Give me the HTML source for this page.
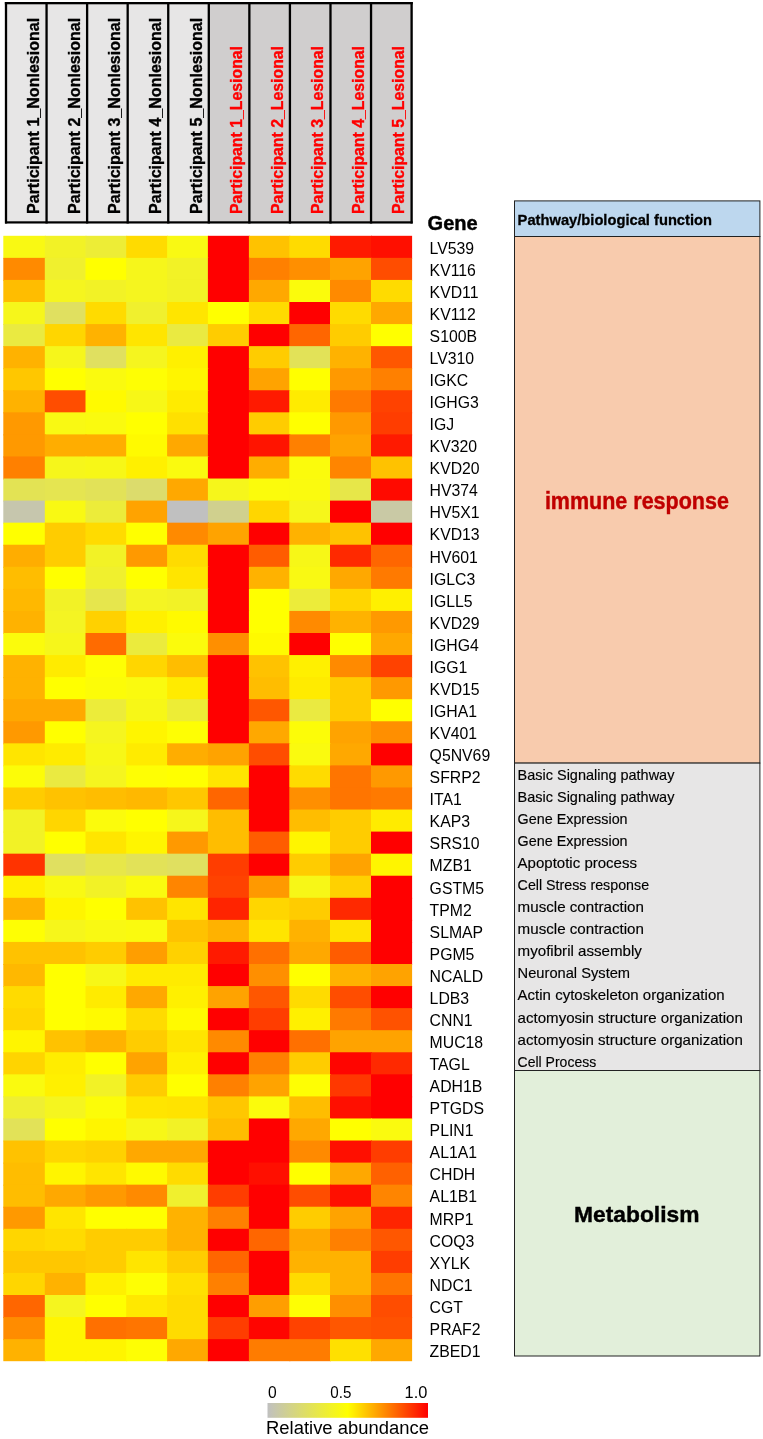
<!DOCTYPE html>
<html lang="en">
<head>
<meta charset="utf-8">
<title>Heatmap</title>
<style>
html,body{margin:0;padding:0;background:#fff}
body{width:763px;height:1439px;overflow:hidden}
svg{display:block}
.s{font-family:"Liberation Sans",Arial,Helvetica,sans-serif}
.b{font-weight:bold}
</style>
</head>
<body>
<svg width="763" height="1439" viewBox="0 0 763 1439" class="s">
<rect x="0" y="0" width="763" height="1439" fill="#ffffff"/>
<g id="header">
<rect x="5.00" y="2.00" width="203.80" height="221.50" fill="#e7e6e6"/>
<rect x="208.80" y="2.00" width="203.80" height="221.50" fill="#d0cece"/>
<rect x="4.85" y="2.00" width="2.3" height="221.50" fill="#000"/>
<rect x="45.41" y="2.00" width="2.3" height="221.50" fill="#000"/>
<rect x="85.97" y="2.00" width="2.3" height="221.50" fill="#000"/>
<rect x="126.53" y="2.00" width="2.3" height="221.50" fill="#000"/>
<rect x="167.09" y="2.00" width="2.3" height="221.50" fill="#000"/>
<rect x="207.65" y="2.00" width="2.3" height="221.50" fill="#000"/>
<rect x="248.21" y="2.00" width="2.3" height="221.50" fill="#000"/>
<rect x="288.77" y="2.00" width="2.3" height="221.50" fill="#000"/>
<rect x="329.33" y="2.00" width="2.3" height="221.50" fill="#000"/>
<rect x="369.89" y="2.00" width="2.3" height="221.50" fill="#000"/>
<rect x="410.45" y="2.00" width="2.3" height="221.50" fill="#000"/>
<rect x="4.85" y="2.00" width="407.90" height="2.3" fill="#000"/>
<rect x="5.00" y="221.30" width="407.60" height="2.2" fill="#000"/>
<text class="b" transform="translate(39.36,214.0) rotate(-90)" font-size="16.6" fill="#000000" stroke="#000000" stroke-width="0.35" textLength="196.2" lengthAdjust="spacingAndGlyphs">Participant 1_Nonlesional</text>
<text class="b" transform="translate(79.92,214.0) rotate(-90)" font-size="16.6" fill="#000000" stroke="#000000" stroke-width="0.35" textLength="196.2" lengthAdjust="spacingAndGlyphs">Participant 2_Nonlesional</text>
<text class="b" transform="translate(120.48,214.0) rotate(-90)" font-size="16.6" fill="#000000" stroke="#000000" stroke-width="0.35" textLength="196.2" lengthAdjust="spacingAndGlyphs">Participant 3_Nonlesional</text>
<text class="b" transform="translate(161.04,214.0) rotate(-90)" font-size="16.6" fill="#000000" stroke="#000000" stroke-width="0.35" textLength="196.2" lengthAdjust="spacingAndGlyphs">Participant 4_Nonlesional</text>
<text class="b" transform="translate(201.60,214.0) rotate(-90)" font-size="16.6" fill="#000000" stroke="#000000" stroke-width="0.35" textLength="196.2" lengthAdjust="spacingAndGlyphs">Participant 5_Nonlesional</text>
<text class="b" transform="translate(242.16,214.0) rotate(-90)" font-size="16.6" fill="#ff0000" stroke="#ff0000" stroke-width="0.35" textLength="168.0" lengthAdjust="spacingAndGlyphs">Participant 1_Lesional</text>
<text class="b" transform="translate(282.72,214.0) rotate(-90)" font-size="16.6" fill="#ff0000" stroke="#ff0000" stroke-width="0.35" textLength="168.0" lengthAdjust="spacingAndGlyphs">Participant 2_Lesional</text>
<text class="b" transform="translate(323.28,214.0) rotate(-90)" font-size="16.6" fill="#ff0000" stroke="#ff0000" stroke-width="0.35" textLength="168.0" lengthAdjust="spacingAndGlyphs">Participant 3_Lesional</text>
<text class="b" transform="translate(363.84,214.0) rotate(-90)" font-size="16.6" fill="#ff0000" stroke="#ff0000" stroke-width="0.35" textLength="168.0" lengthAdjust="spacingAndGlyphs">Participant 4_Lesional</text>
<text class="b" transform="translate(404.40,214.0) rotate(-90)" font-size="16.6" fill="#ff0000" stroke="#ff0000" stroke-width="0.35" textLength="168.0" lengthAdjust="spacingAndGlyphs">Participant 5_Lesional</text>
</g>
<g id="heatmap">
<rect x="3.30" y="235.80" width="42.50" height="23.07" fill="#f9f913"/><rect x="44.80" y="235.80" width="41.70" height="23.07" fill="#f2f226"/><rect x="85.50" y="235.80" width="41.70" height="23.07" fill="#eded36"/><rect x="126.20" y="235.80" width="41.90" height="23.07" fill="#ffdb00"/><rect x="167.10" y="235.80" width="41.80" height="23.07" fill="#f9f913"/><rect x="207.90" y="235.80" width="42.00" height="23.07" fill="#ff0000"/><rect x="248.90" y="235.80" width="41.40" height="23.07" fill="#ffc200"/><rect x="289.30" y="235.80" width="41.70" height="23.07" fill="#ffdb00"/><rect x="330.00" y="235.80" width="42.00" height="23.07" fill="#ff1a00"/><rect x="371.00" y="235.80" width="41.10" height="23.07" fill="#ff0f00"/>
<rect x="3.30" y="257.87" width="42.50" height="23.07" fill="#ff8a00"/><rect x="44.80" y="257.87" width="41.70" height="23.07" fill="#f0f02e"/><rect x="85.50" y="257.87" width="41.70" height="23.07" fill="#ffff00"/><rect x="126.20" y="257.87" width="41.90" height="23.07" fill="#f6f61b"/><rect x="167.10" y="257.87" width="41.80" height="23.07" fill="#f2f226"/><rect x="207.90" y="257.87" width="42.00" height="23.07" fill="#ff0000"/><rect x="248.90" y="257.87" width="41.40" height="23.07" fill="#ff8000"/><rect x="289.30" y="257.87" width="41.70" height="23.07" fill="#ff8f00"/><rect x="330.00" y="257.87" width="42.00" height="23.07" fill="#ffa300"/><rect x="371.00" y="257.87" width="41.10" height="23.07" fill="#ff4d00"/>
<rect x="3.30" y="279.93" width="42.50" height="23.07" fill="#ffbd00"/><rect x="44.80" y="279.93" width="41.70" height="23.07" fill="#f5f51f"/><rect x="85.50" y="279.93" width="41.70" height="23.07" fill="#f2f226"/><rect x="126.20" y="279.93" width="41.90" height="23.07" fill="#f5f51f"/><rect x="167.10" y="279.93" width="41.80" height="23.07" fill="#f2f226"/><rect x="207.90" y="279.93" width="42.00" height="23.07" fill="#ff0000"/><rect x="248.90" y="279.93" width="41.40" height="23.07" fill="#ffa800"/><rect x="289.30" y="279.93" width="41.70" height="23.07" fill="#fbfb0c"/><rect x="330.00" y="279.93" width="42.00" height="23.07" fill="#ff8a00"/><rect x="371.00" y="279.93" width="41.10" height="23.07" fill="#ffdb00"/>
<rect x="3.30" y="302.00" width="42.50" height="23.07" fill="#f6f61b"/><rect x="44.80" y="302.00" width="41.70" height="23.07" fill="#e0e060"/><rect x="85.50" y="302.00" width="41.70" height="23.07" fill="#ffdb00"/><rect x="126.20" y="302.00" width="41.90" height="23.07" fill="#f0f02e"/><rect x="167.10" y="302.00" width="41.80" height="23.07" fill="#ffe500"/><rect x="207.90" y="302.00" width="42.00" height="23.07" fill="#ffff00"/><rect x="248.90" y="302.00" width="41.40" height="23.07" fill="#ffdb00"/><rect x="289.30" y="302.00" width="41.70" height="23.07" fill="#ff0000"/><rect x="330.00" y="302.00" width="42.00" height="23.07" fill="#ffdb00"/><rect x="371.00" y="302.00" width="41.10" height="23.07" fill="#ffa800"/>
<rect x="3.30" y="324.07" width="42.50" height="23.07" fill="#eaea41"/><rect x="44.80" y="324.07" width="41.70" height="23.07" fill="#ffd600"/><rect x="85.50" y="324.07" width="41.70" height="23.07" fill="#ffb200"/><rect x="126.20" y="324.07" width="41.90" height="23.07" fill="#ffe500"/><rect x="167.10" y="324.07" width="41.80" height="23.07" fill="#eaea41"/><rect x="207.90" y="324.07" width="42.00" height="23.07" fill="#ffcc00"/><rect x="248.90" y="324.07" width="41.40" height="23.07" fill="#ff0000"/><rect x="289.30" y="324.07" width="41.70" height="23.07" fill="#ff6600"/><rect x="330.00" y="324.07" width="42.00" height="23.07" fill="#ffcc00"/><rect x="371.00" y="324.07" width="41.10" height="23.07" fill="#ffff00"/>
<rect x="3.30" y="346.13" width="42.50" height="23.07" fill="#ffb200"/><rect x="44.80" y="346.13" width="41.70" height="23.07" fill="#f6f61b"/><rect x="85.50" y="346.13" width="41.70" height="23.07" fill="#e0e060"/><rect x="126.20" y="346.13" width="41.90" height="23.07" fill="#f5f51f"/><rect x="167.10" y="346.13" width="41.80" height="23.07" fill="#fff000"/><rect x="207.90" y="346.13" width="42.00" height="23.07" fill="#ff0000"/><rect x="248.90" y="346.13" width="41.40" height="23.07" fill="#ffcc00"/><rect x="289.30" y="346.13" width="41.70" height="23.07" fill="#e2e258"/><rect x="330.00" y="346.13" width="42.00" height="23.07" fill="#ffb200"/><rect x="371.00" y="346.13" width="41.10" height="23.07" fill="#ff5700"/>
<rect x="3.30" y="368.20" width="42.50" height="23.07" fill="#ffc700"/><rect x="44.80" y="368.20" width="41.70" height="23.07" fill="#ffff00"/><rect x="85.50" y="368.20" width="41.70" height="23.07" fill="#fafa0f"/><rect x="126.20" y="368.20" width="41.90" height="23.07" fill="#fefe04"/><rect x="167.10" y="368.20" width="41.80" height="23.07" fill="#fff500"/><rect x="207.90" y="368.20" width="42.00" height="23.07" fill="#ff0000"/><rect x="248.90" y="368.20" width="41.40" height="23.07" fill="#ffa300"/><rect x="289.30" y="368.20" width="41.70" height="23.07" fill="#ffff00"/><rect x="330.00" y="368.20" width="42.00" height="23.07" fill="#ff9900"/><rect x="371.00" y="368.20" width="41.10" height="23.07" fill="#ff8000"/>
<rect x="3.30" y="390.27" width="42.50" height="23.07" fill="#ffb200"/><rect x="44.80" y="390.27" width="41.70" height="23.07" fill="#ff4d00"/><rect x="85.50" y="390.27" width="41.70" height="23.07" fill="#fffa00"/><rect x="126.20" y="390.27" width="41.90" height="23.07" fill="#f7f717"/><rect x="167.10" y="390.27" width="41.80" height="23.07" fill="#ffeb00"/><rect x="207.90" y="390.27" width="42.00" height="23.07" fill="#ff0000"/><rect x="248.90" y="390.27" width="41.40" height="23.07" fill="#ff1a00"/><rect x="289.30" y="390.27" width="41.70" height="23.07" fill="#ffeb00"/><rect x="330.00" y="390.27" width="42.00" height="23.07" fill="#ff7a00"/><rect x="371.00" y="390.27" width="41.10" height="23.07" fill="#ff4200"/>
<rect x="3.30" y="412.33" width="42.50" height="23.07" fill="#ff9900"/><rect x="44.80" y="412.33" width="41.70" height="23.07" fill="#f9f913"/><rect x="85.50" y="412.33" width="41.70" height="23.07" fill="#fafa0f"/><rect x="126.20" y="412.33" width="41.90" height="23.07" fill="#ffff00"/><rect x="167.10" y="412.33" width="41.80" height="23.07" fill="#ffe000"/><rect x="207.90" y="412.33" width="42.00" height="23.07" fill="#ff0000"/><rect x="248.90" y="412.33" width="41.40" height="23.07" fill="#ffcc00"/><rect x="289.30" y="412.33" width="41.70" height="23.07" fill="#ffff00"/><rect x="330.00" y="412.33" width="42.00" height="23.07" fill="#ff9900"/><rect x="371.00" y="412.33" width="41.10" height="23.07" fill="#ff3d00"/>
<rect x="3.30" y="434.40" width="42.50" height="23.07" fill="#ff9900"/><rect x="44.80" y="434.40" width="41.70" height="23.07" fill="#ffad00"/><rect x="85.50" y="434.40" width="41.70" height="23.07" fill="#ffad00"/><rect x="126.20" y="434.40" width="41.90" height="23.07" fill="#fffa00"/><rect x="167.10" y="434.40" width="41.80" height="23.07" fill="#ffa800"/><rect x="207.90" y="434.40" width="42.00" height="23.07" fill="#ff0000"/><rect x="248.90" y="434.40" width="41.40" height="23.07" fill="#ff1400"/><rect x="289.30" y="434.40" width="41.70" height="23.07" fill="#ff8000"/><rect x="330.00" y="434.40" width="42.00" height="23.07" fill="#ffa300"/><rect x="371.00" y="434.40" width="41.10" height="23.07" fill="#ff1a00"/>
<rect x="3.30" y="456.47" width="42.50" height="23.07" fill="#ff8000"/><rect x="44.80" y="456.47" width="41.70" height="23.07" fill="#f6f61b"/><rect x="85.50" y="456.47" width="41.70" height="23.07" fill="#f7f717"/><rect x="126.20" y="456.47" width="41.90" height="23.07" fill="#fff000"/><rect x="167.10" y="456.47" width="41.80" height="23.07" fill="#fafa0f"/><rect x="207.90" y="456.47" width="42.00" height="23.07" fill="#ff0000"/><rect x="248.90" y="456.47" width="41.40" height="23.07" fill="#ffad00"/><rect x="289.30" y="456.47" width="41.70" height="23.07" fill="#fbfb0c"/><rect x="330.00" y="456.47" width="42.00" height="23.07" fill="#ff8500"/><rect x="371.00" y="456.47" width="41.10" height="23.07" fill="#ffc200"/>
<rect x="3.30" y="478.53" width="42.50" height="23.07" fill="#e3e354"/><rect x="44.80" y="478.53" width="41.70" height="23.07" fill="#e5e551"/><rect x="85.50" y="478.53" width="41.70" height="23.07" fill="#e2e258"/><rect x="126.20" y="478.53" width="41.90" height="23.07" fill="#dcdc6c"/><rect x="167.10" y="478.53" width="41.80" height="23.07" fill="#ffa800"/><rect x="207.90" y="478.53" width="42.00" height="23.07" fill="#f6f61b"/><rect x="248.90" y="478.53" width="41.40" height="23.07" fill="#fbfb0c"/><rect x="289.30" y="478.53" width="41.70" height="23.07" fill="#fafa0f"/><rect x="330.00" y="478.53" width="42.00" height="23.07" fill="#e7e749"/><rect x="371.00" y="478.53" width="41.10" height="23.07" fill="#ff0a00"/>
<rect x="3.30" y="500.60" width="42.50" height="23.07" fill="#c6c6ad"/><rect x="44.80" y="500.60" width="41.70" height="23.07" fill="#f9f913"/><rect x="85.50" y="500.60" width="41.70" height="23.07" fill="#ecec3a"/><rect x="126.20" y="500.60" width="41.90" height="23.07" fill="#ffa300"/><rect x="167.10" y="500.60" width="41.80" height="23.07" fill="#c0c0c0"/><rect x="207.90" y="500.60" width="42.00" height="23.07" fill="#d0d08e"/><rect x="248.90" y="500.60" width="41.40" height="23.07" fill="#ffd600"/><rect x="289.30" y="500.60" width="41.70" height="23.07" fill="#f6f61b"/><rect x="330.00" y="500.60" width="42.00" height="23.07" fill="#ff0000"/><rect x="371.00" y="500.60" width="41.10" height="23.07" fill="#c9c9a5"/>
<rect x="3.30" y="522.67" width="42.50" height="23.07" fill="#ffff00"/><rect x="44.80" y="522.67" width="41.70" height="23.07" fill="#ffcc00"/><rect x="85.50" y="522.67" width="41.70" height="23.07" fill="#ffdb00"/><rect x="126.20" y="522.67" width="41.90" height="23.07" fill="#ffff00"/><rect x="167.10" y="522.67" width="41.80" height="23.07" fill="#ff8a00"/><rect x="207.90" y="522.67" width="42.00" height="23.07" fill="#ffa300"/><rect x="248.90" y="522.67" width="41.40" height="23.07" fill="#ff0000"/><rect x="289.30" y="522.67" width="41.70" height="23.07" fill="#ffb200"/><rect x="330.00" y="522.67" width="42.00" height="23.07" fill="#ffc200"/><rect x="371.00" y="522.67" width="41.10" height="23.07" fill="#ff0000"/>
<rect x="3.30" y="544.73" width="42.50" height="23.07" fill="#ffad00"/><rect x="44.80" y="544.73" width="41.70" height="23.07" fill="#ffcc00"/><rect x="85.50" y="544.73" width="41.70" height="23.07" fill="#f2f226"/><rect x="126.20" y="544.73" width="41.90" height="23.07" fill="#ff9900"/><rect x="167.10" y="544.73" width="41.80" height="23.07" fill="#ffdb00"/><rect x="207.90" y="544.73" width="42.00" height="23.07" fill="#ff0000"/><rect x="248.90" y="544.73" width="41.40" height="23.07" fill="#ff5c00"/><rect x="289.30" y="544.73" width="41.70" height="23.07" fill="#f7f717"/><rect x="330.00" y="544.73" width="42.00" height="23.07" fill="#ff2900"/><rect x="371.00" y="544.73" width="41.10" height="23.07" fill="#ff6600"/>
<rect x="3.30" y="566.80" width="42.50" height="23.07" fill="#ffbd00"/><rect x="44.80" y="566.80" width="41.70" height="23.07" fill="#ffff00"/><rect x="85.50" y="566.80" width="41.70" height="23.07" fill="#f0f02e"/><rect x="126.20" y="566.80" width="41.90" height="23.07" fill="#ffff00"/><rect x="167.10" y="566.80" width="41.80" height="23.07" fill="#ffe500"/><rect x="207.90" y="566.80" width="42.00" height="23.07" fill="#ff0000"/><rect x="248.90" y="566.80" width="41.40" height="23.07" fill="#ffb200"/><rect x="289.30" y="566.80" width="41.70" height="23.07" fill="#f9f913"/><rect x="330.00" y="566.80" width="42.00" height="23.07" fill="#ffa800"/><rect x="371.00" y="566.80" width="41.10" height="23.07" fill="#ff7a00"/>
<rect x="3.30" y="588.87" width="42.50" height="23.07" fill="#ffb800"/><rect x="44.80" y="588.87" width="41.70" height="23.07" fill="#f2f226"/><rect x="85.50" y="588.87" width="41.70" height="23.07" fill="#e6e64d"/><rect x="126.20" y="588.87" width="41.90" height="23.07" fill="#f4f423"/><rect x="167.10" y="588.87" width="41.80" height="23.07" fill="#f2f226"/><rect x="207.90" y="588.87" width="42.00" height="23.07" fill="#ff0000"/><rect x="248.90" y="588.87" width="41.40" height="23.07" fill="#ffff00"/><rect x="289.30" y="588.87" width="41.70" height="23.07" fill="#ecec3a"/><rect x="330.00" y="588.87" width="42.00" height="23.07" fill="#ffd600"/><rect x="371.00" y="588.87" width="41.10" height="23.07" fill="#fff000"/>
<rect x="3.30" y="610.93" width="42.50" height="23.07" fill="#ffb200"/><rect x="44.80" y="610.93" width="41.70" height="23.07" fill="#f4f423"/><rect x="85.50" y="610.93" width="41.70" height="23.07" fill="#ffd100"/><rect x="126.20" y="610.93" width="41.90" height="23.07" fill="#fff000"/><rect x="167.10" y="610.93" width="41.80" height="23.07" fill="#fffa00"/><rect x="207.90" y="610.93" width="42.00" height="23.07" fill="#ff0000"/><rect x="248.90" y="610.93" width="41.40" height="23.07" fill="#ffff00"/><rect x="289.30" y="610.93" width="41.70" height="23.07" fill="#ff8a00"/><rect x="330.00" y="610.93" width="42.00" height="23.07" fill="#ffb200"/><rect x="371.00" y="610.93" width="41.10" height="23.07" fill="#ff9900"/>
<rect x="3.30" y="633.00" width="42.50" height="23.07" fill="#fbfb0c"/><rect x="44.80" y="633.00" width="41.70" height="23.07" fill="#f6f61b"/><rect x="85.50" y="633.00" width="41.70" height="23.07" fill="#ff6b00"/><rect x="126.20" y="633.00" width="41.90" height="23.07" fill="#ebeb3d"/><rect x="167.10" y="633.00" width="41.80" height="23.07" fill="#fbfb0c"/><rect x="207.90" y="633.00" width="42.00" height="23.07" fill="#ff8f00"/><rect x="248.90" y="633.00" width="41.40" height="23.07" fill="#fffa00"/><rect x="289.30" y="633.00" width="41.70" height="23.07" fill="#ff0000"/><rect x="330.00" y="633.00" width="42.00" height="23.07" fill="#ffff00"/><rect x="371.00" y="633.00" width="41.10" height="23.07" fill="#ffa800"/>
<rect x="3.30" y="655.07" width="42.50" height="23.07" fill="#ffb200"/><rect x="44.80" y="655.07" width="41.70" height="23.07" fill="#ffeb00"/><rect x="85.50" y="655.07" width="41.70" height="23.07" fill="#fefe04"/><rect x="126.20" y="655.07" width="41.90" height="23.07" fill="#ffd600"/><rect x="167.10" y="655.07" width="41.80" height="23.07" fill="#ffbd00"/><rect x="207.90" y="655.07" width="42.00" height="23.07" fill="#ff0000"/><rect x="248.90" y="655.07" width="41.40" height="23.07" fill="#ffc200"/><rect x="289.30" y="655.07" width="41.70" height="23.07" fill="#fff000"/><rect x="330.00" y="655.07" width="42.00" height="23.07" fill="#ff8a00"/><rect x="371.00" y="655.07" width="41.10" height="23.07" fill="#ff4200"/>
<rect x="3.30" y="677.13" width="42.50" height="23.07" fill="#ffb200"/><rect x="44.80" y="677.13" width="41.70" height="23.07" fill="#ffff00"/><rect x="85.50" y="677.13" width="41.70" height="23.07" fill="#fcfc08"/><rect x="126.20" y="677.13" width="41.90" height="23.07" fill="#fafa0f"/><rect x="167.10" y="677.13" width="41.80" height="23.07" fill="#ffeb00"/><rect x="207.90" y="677.13" width="42.00" height="23.07" fill="#ff0000"/><rect x="248.90" y="677.13" width="41.40" height="23.07" fill="#ffbd00"/><rect x="289.30" y="677.13" width="41.70" height="23.07" fill="#ffeb00"/><rect x="330.00" y="677.13" width="42.00" height="23.07" fill="#ffcc00"/><rect x="371.00" y="677.13" width="41.10" height="23.07" fill="#ff9900"/>
<rect x="3.30" y="699.20" width="42.50" height="23.07" fill="#ffa800"/><rect x="44.80" y="699.20" width="41.70" height="23.07" fill="#ffa800"/><rect x="85.50" y="699.20" width="41.70" height="23.07" fill="#ecec3a"/><rect x="126.20" y="699.20" width="41.90" height="23.07" fill="#f7f717"/><rect x="167.10" y="699.20" width="41.80" height="23.07" fill="#eded36"/><rect x="207.90" y="699.20" width="42.00" height="23.07" fill="#ff0000"/><rect x="248.90" y="699.20" width="41.40" height="23.07" fill="#ff5700"/><rect x="289.30" y="699.20" width="41.70" height="23.07" fill="#eaea41"/><rect x="330.00" y="699.20" width="42.00" height="23.07" fill="#ffcc00"/><rect x="371.00" y="699.20" width="41.10" height="23.07" fill="#ffff00"/>
<rect x="3.30" y="721.27" width="42.50" height="23.07" fill="#ff9900"/><rect x="44.80" y="721.27" width="41.70" height="23.07" fill="#ffff00"/><rect x="85.50" y="721.27" width="41.70" height="23.07" fill="#f5f51f"/><rect x="126.20" y="721.27" width="41.90" height="23.07" fill="#fff500"/><rect x="167.10" y="721.27" width="41.80" height="23.07" fill="#fefe04"/><rect x="207.90" y="721.27" width="42.00" height="23.07" fill="#ff0000"/><rect x="248.90" y="721.27" width="41.40" height="23.07" fill="#ffa800"/><rect x="289.30" y="721.27" width="41.70" height="23.07" fill="#fcfc08"/><rect x="330.00" y="721.27" width="42.00" height="23.07" fill="#ffa300"/><rect x="371.00" y="721.27" width="41.10" height="23.07" fill="#ff8f00"/>
<rect x="3.30" y="743.33" width="42.50" height="23.07" fill="#ffe500"/><rect x="44.80" y="743.33" width="41.70" height="23.07" fill="#ffeb00"/><rect x="85.50" y="743.33" width="41.70" height="23.07" fill="#f7f717"/><rect x="126.20" y="743.33" width="41.90" height="23.07" fill="#ffeb00"/><rect x="167.10" y="743.33" width="41.80" height="23.07" fill="#ffad00"/><rect x="207.90" y="743.33" width="42.00" height="23.07" fill="#ffa300"/><rect x="248.90" y="743.33" width="41.40" height="23.07" fill="#ff4d00"/><rect x="289.30" y="743.33" width="41.70" height="23.07" fill="#fafa0f"/><rect x="330.00" y="743.33" width="42.00" height="23.07" fill="#ffa800"/><rect x="371.00" y="743.33" width="41.10" height="23.07" fill="#ff0000"/>
<rect x="3.30" y="765.40" width="42.50" height="23.07" fill="#fcfc08"/><rect x="44.80" y="765.40" width="41.70" height="23.07" fill="#eaea41"/><rect x="85.50" y="765.40" width="41.70" height="23.07" fill="#f5f51f"/><rect x="126.20" y="765.40" width="41.90" height="23.07" fill="#fefe04"/><rect x="167.10" y="765.40" width="41.80" height="23.07" fill="#ffff00"/><rect x="207.90" y="765.40" width="42.00" height="23.07" fill="#ffe500"/><rect x="248.90" y="765.40" width="41.40" height="23.07" fill="#ff0000"/><rect x="289.30" y="765.40" width="41.70" height="23.07" fill="#ffdb00"/><rect x="330.00" y="765.40" width="42.00" height="23.07" fill="#ff7500"/><rect x="371.00" y="765.40" width="41.10" height="23.07" fill="#ff9900"/>
<rect x="3.30" y="787.47" width="42.50" height="23.07" fill="#ffcc00"/><rect x="44.80" y="787.47" width="41.70" height="23.07" fill="#ffc200"/><rect x="85.50" y="787.47" width="41.70" height="23.07" fill="#ffbd00"/><rect x="126.20" y="787.47" width="41.90" height="23.07" fill="#ffb800"/><rect x="167.10" y="787.47" width="41.80" height="23.07" fill="#ffc700"/><rect x="207.90" y="787.47" width="42.00" height="23.07" fill="#ff6600"/><rect x="248.90" y="787.47" width="41.40" height="23.07" fill="#ff0000"/><rect x="289.30" y="787.47" width="41.70" height="23.07" fill="#ff8f00"/><rect x="330.00" y="787.47" width="42.00" height="23.07" fill="#ff7500"/><rect x="371.00" y="787.47" width="41.10" height="23.07" fill="#ff7a00"/>
<rect x="3.30" y="809.53" width="42.50" height="23.07" fill="#f2f226"/><rect x="44.80" y="809.53" width="41.70" height="23.07" fill="#ffd600"/><rect x="85.50" y="809.53" width="41.70" height="23.07" fill="#fbfb0c"/><rect x="126.20" y="809.53" width="41.90" height="23.07" fill="#ffff00"/><rect x="167.10" y="809.53" width="41.80" height="23.07" fill="#f6f61b"/><rect x="207.90" y="809.53" width="42.00" height="23.07" fill="#ffbd00"/><rect x="248.90" y="809.53" width="41.40" height="23.07" fill="#ff0000"/><rect x="289.30" y="809.53" width="41.70" height="23.07" fill="#ffbd00"/><rect x="330.00" y="809.53" width="42.00" height="23.07" fill="#ffcc00"/><rect x="371.00" y="809.53" width="41.10" height="23.07" fill="#ffeb00"/>
<rect x="3.30" y="831.60" width="42.50" height="23.07" fill="#f2f226"/><rect x="44.80" y="831.60" width="41.70" height="23.07" fill="#ffff00"/><rect x="85.50" y="831.60" width="41.70" height="23.07" fill="#ffe500"/><rect x="126.20" y="831.60" width="41.90" height="23.07" fill="#fff500"/><rect x="167.10" y="831.60" width="41.80" height="23.07" fill="#ff9900"/><rect x="207.90" y="831.60" width="42.00" height="23.07" fill="#ffbd00"/><rect x="248.90" y="831.60" width="41.40" height="23.07" fill="#ff5c00"/><rect x="289.30" y="831.60" width="41.70" height="23.07" fill="#fff500"/><rect x="330.00" y="831.60" width="42.00" height="23.07" fill="#ffcc00"/><rect x="371.00" y="831.60" width="41.10" height="23.07" fill="#ff0000"/>
<rect x="3.30" y="853.67" width="42.50" height="23.07" fill="#ff3300"/><rect x="44.80" y="853.67" width="41.70" height="23.07" fill="#e0e060"/><rect x="85.50" y="853.67" width="41.70" height="23.07" fill="#e7e749"/><rect x="126.20" y="853.67" width="41.90" height="23.07" fill="#e2e258"/><rect x="167.10" y="853.67" width="41.80" height="23.07" fill="#e0e060"/><rect x="207.90" y="853.67" width="42.00" height="23.07" fill="#ff3d00"/><rect x="248.90" y="853.67" width="41.40" height="23.07" fill="#ff0000"/><rect x="289.30" y="853.67" width="41.70" height="23.07" fill="#ffcc00"/><rect x="330.00" y="853.67" width="42.00" height="23.07" fill="#ffa300"/><rect x="371.00" y="853.67" width="41.10" height="23.07" fill="#fff500"/>
<rect x="3.30" y="875.73" width="42.50" height="23.07" fill="#fff000"/><rect x="44.80" y="875.73" width="41.70" height="23.07" fill="#f9f913"/><rect x="85.50" y="875.73" width="41.70" height="23.07" fill="#f2f226"/><rect x="126.20" y="875.73" width="41.90" height="23.07" fill="#fafa0f"/><rect x="167.10" y="875.73" width="41.80" height="23.07" fill="#ff8500"/><rect x="207.90" y="875.73" width="42.00" height="23.07" fill="#ff4200"/><rect x="248.90" y="875.73" width="41.40" height="23.07" fill="#ff9900"/><rect x="289.30" y="875.73" width="41.70" height="23.07" fill="#f7f717"/><rect x="330.00" y="875.73" width="42.00" height="23.07" fill="#ffd100"/><rect x="371.00" y="875.73" width="41.10" height="23.07" fill="#ff0000"/>
<rect x="3.30" y="897.80" width="42.50" height="23.07" fill="#ffb200"/><rect x="44.80" y="897.80" width="41.70" height="23.07" fill="#fff500"/><rect x="85.50" y="897.80" width="41.70" height="23.07" fill="#ffff00"/><rect x="126.20" y="897.80" width="41.90" height="23.07" fill="#ffc200"/><rect x="167.10" y="897.80" width="41.80" height="23.07" fill="#ffe500"/><rect x="207.90" y="897.80" width="42.00" height="23.07" fill="#ff2400"/><rect x="248.90" y="897.80" width="41.40" height="23.07" fill="#ffd600"/><rect x="289.30" y="897.80" width="41.70" height="23.07" fill="#ffcc00"/><rect x="330.00" y="897.80" width="42.00" height="23.07" fill="#ff2900"/><rect x="371.00" y="897.80" width="41.10" height="23.07" fill="#ff0000"/>
<rect x="3.30" y="919.87" width="42.50" height="23.07" fill="#fefe04"/><rect x="44.80" y="919.87" width="41.70" height="23.07" fill="#f6f61b"/><rect x="85.50" y="919.87" width="41.70" height="23.07" fill="#f9f913"/><rect x="126.20" y="919.87" width="41.90" height="23.07" fill="#fafa0f"/><rect x="167.10" y="919.87" width="41.80" height="23.07" fill="#ffc200"/><rect x="207.90" y="919.87" width="42.00" height="23.07" fill="#ffb200"/><rect x="248.90" y="919.87" width="41.40" height="23.07" fill="#ffe500"/><rect x="289.30" y="919.87" width="41.70" height="23.07" fill="#ffb200"/><rect x="330.00" y="919.87" width="42.00" height="23.07" fill="#ffe300"/><rect x="371.00" y="919.87" width="41.10" height="23.07" fill="#ff0000"/>
<rect x="3.30" y="941.93" width="42.50" height="23.07" fill="#ffc200"/><rect x="44.80" y="941.93" width="41.70" height="23.07" fill="#ffc200"/><rect x="85.50" y="941.93" width="41.70" height="23.07" fill="#ffcc00"/><rect x="126.20" y="941.93" width="41.90" height="23.07" fill="#ff9e00"/><rect x="167.10" y="941.93" width="41.80" height="23.07" fill="#ffd100"/><rect x="207.90" y="941.93" width="42.00" height="23.07" fill="#ff1a00"/><rect x="248.90" y="941.93" width="41.40" height="23.07" fill="#ff7000"/><rect x="289.30" y="941.93" width="41.70" height="23.07" fill="#ffa800"/><rect x="330.00" y="941.93" width="42.00" height="23.07" fill="#ff5c00"/><rect x="371.00" y="941.93" width="41.10" height="23.07" fill="#ff0000"/>
<rect x="3.30" y="964.00" width="42.50" height="23.07" fill="#ffb800"/><rect x="44.80" y="964.00" width="41.70" height="23.07" fill="#ffff00"/><rect x="85.50" y="964.00" width="41.70" height="23.07" fill="#f7f717"/><rect x="126.20" y="964.00" width="41.90" height="23.07" fill="#ffeb00"/><rect x="167.10" y="964.00" width="41.80" height="23.07" fill="#ffeb00"/><rect x="207.90" y="964.00" width="42.00" height="23.07" fill="#ff0000"/><rect x="248.90" y="964.00" width="41.40" height="23.07" fill="#ff8f00"/><rect x="289.30" y="964.00" width="41.70" height="23.07" fill="#ffff00"/><rect x="330.00" y="964.00" width="42.00" height="23.07" fill="#ffb200"/><rect x="371.00" y="964.00" width="41.10" height="23.07" fill="#ffa300"/>
<rect x="3.30" y="986.07" width="42.50" height="23.07" fill="#ffdb00"/><rect x="44.80" y="986.07" width="41.70" height="23.07" fill="#ffff00"/><rect x="85.50" y="986.07" width="41.70" height="23.07" fill="#ffeb00"/><rect x="126.20" y="986.07" width="41.90" height="23.07" fill="#ffa800"/><rect x="167.10" y="986.07" width="41.80" height="23.07" fill="#fff000"/><rect x="207.90" y="986.07" width="42.00" height="23.07" fill="#ffa300"/><rect x="248.90" y="986.07" width="41.40" height="23.07" fill="#ff5700"/><rect x="289.30" y="986.07" width="41.70" height="23.07" fill="#ffdb00"/><rect x="330.00" y="986.07" width="42.00" height="23.07" fill="#ff4d00"/><rect x="371.00" y="986.07" width="41.10" height="23.07" fill="#ff0000"/>
<rect x="3.30" y="1008.13" width="42.50" height="23.07" fill="#ffd600"/><rect x="44.80" y="1008.13" width="41.70" height="23.07" fill="#ffff00"/><rect x="85.50" y="1008.13" width="41.70" height="23.07" fill="#fffa00"/><rect x="126.20" y="1008.13" width="41.90" height="23.07" fill="#ffdb00"/><rect x="167.10" y="1008.13" width="41.80" height="23.07" fill="#fffa00"/><rect x="207.90" y="1008.13" width="42.00" height="23.07" fill="#ff0000"/><rect x="248.90" y="1008.13" width="41.40" height="23.07" fill="#ff3d00"/><rect x="289.30" y="1008.13" width="41.70" height="23.07" fill="#fff000"/><rect x="330.00" y="1008.13" width="42.00" height="23.07" fill="#ff7a00"/><rect x="371.00" y="1008.13" width="41.10" height="23.07" fill="#ff5200"/>
<rect x="3.30" y="1030.20" width="42.50" height="23.07" fill="#fff500"/><rect x="44.80" y="1030.20" width="41.70" height="23.07" fill="#ffc200"/><rect x="85.50" y="1030.20" width="41.70" height="23.07" fill="#ffb200"/><rect x="126.20" y="1030.20" width="41.90" height="23.07" fill="#ffcc00"/><rect x="167.10" y="1030.20" width="41.80" height="23.07" fill="#ffe500"/><rect x="207.90" y="1030.20" width="42.00" height="23.07" fill="#ff8a00"/><rect x="248.90" y="1030.20" width="41.40" height="23.07" fill="#ff0000"/><rect x="289.30" y="1030.20" width="41.70" height="23.07" fill="#ff7000"/><rect x="330.00" y="1030.20" width="42.00" height="23.07" fill="#ffa300"/><rect x="371.00" y="1030.20" width="41.10" height="23.07" fill="#ffa300"/>
<rect x="3.30" y="1052.27" width="42.50" height="23.07" fill="#ffd400"/><rect x="44.80" y="1052.27" width="41.70" height="23.07" fill="#ffed00"/><rect x="85.50" y="1052.27" width="41.70" height="23.07" fill="#ffff00"/><rect x="126.20" y="1052.27" width="41.90" height="23.07" fill="#ffa300"/><rect x="167.10" y="1052.27" width="41.80" height="23.07" fill="#fff000"/><rect x="207.90" y="1052.27" width="42.00" height="23.07" fill="#ff0000"/><rect x="248.90" y="1052.27" width="41.40" height="23.07" fill="#ff8000"/><rect x="289.30" y="1052.27" width="41.70" height="23.07" fill="#ffcc00"/><rect x="330.00" y="1052.27" width="42.00" height="23.07" fill="#ff0500"/><rect x="371.00" y="1052.27" width="41.10" height="23.07" fill="#ff2900"/>
<rect x="3.30" y="1074.33" width="42.50" height="23.07" fill="#fafa0f"/><rect x="44.80" y="1074.33" width="41.70" height="23.07" fill="#fff000"/><rect x="85.50" y="1074.33" width="41.70" height="23.07" fill="#f2f226"/><rect x="126.20" y="1074.33" width="41.90" height="23.07" fill="#ffcc00"/><rect x="167.10" y="1074.33" width="41.80" height="23.07" fill="#ffff00"/><rect x="207.90" y="1074.33" width="42.00" height="23.07" fill="#ff8000"/><rect x="248.90" y="1074.33" width="41.40" height="23.07" fill="#ffa300"/><rect x="289.30" y="1074.33" width="41.70" height="23.07" fill="#fefe04"/><rect x="330.00" y="1074.33" width="42.00" height="23.07" fill="#ff3800"/><rect x="371.00" y="1074.33" width="41.10" height="23.07" fill="#ff0000"/>
<rect x="3.30" y="1096.40" width="42.50" height="23.07" fill="#efef32"/><rect x="44.80" y="1096.40" width="41.70" height="23.07" fill="#f5f51f"/><rect x="85.50" y="1096.40" width="41.70" height="23.07" fill="#fcfc08"/><rect x="126.20" y="1096.40" width="41.90" height="23.07" fill="#ffe500"/><rect x="167.10" y="1096.40" width="41.80" height="23.07" fill="#ffe300"/><rect x="207.90" y="1096.40" width="42.00" height="23.07" fill="#ffc700"/><rect x="248.90" y="1096.40" width="41.40" height="23.07" fill="#fbfb0c"/><rect x="289.30" y="1096.40" width="41.70" height="23.07" fill="#ffbd00"/><rect x="330.00" y="1096.40" width="42.00" height="23.07" fill="#ff0f00"/><rect x="371.00" y="1096.40" width="41.10" height="23.07" fill="#ff0000"/>
<rect x="3.30" y="1118.47" width="42.50" height="23.07" fill="#e2e258"/><rect x="44.80" y="1118.47" width="41.70" height="23.07" fill="#ffff00"/><rect x="85.50" y="1118.47" width="41.70" height="23.07" fill="#fff500"/><rect x="126.20" y="1118.47" width="41.90" height="23.07" fill="#f7f717"/><rect x="167.10" y="1118.47" width="41.80" height="23.07" fill="#f2f226"/><rect x="207.90" y="1118.47" width="42.00" height="23.07" fill="#ffbd00"/><rect x="248.90" y="1118.47" width="41.40" height="23.07" fill="#ff0000"/><rect x="289.30" y="1118.47" width="41.70" height="23.07" fill="#ffa800"/><rect x="330.00" y="1118.47" width="42.00" height="23.07" fill="#ffff00"/><rect x="371.00" y="1118.47" width="41.10" height="23.07" fill="#fafa0f"/>
<rect x="3.30" y="1140.53" width="42.50" height="23.07" fill="#ffc200"/><rect x="44.80" y="1140.53" width="41.70" height="23.07" fill="#ffd600"/><rect x="85.50" y="1140.53" width="41.70" height="23.07" fill="#ffd100"/><rect x="126.20" y="1140.53" width="41.90" height="23.07" fill="#ffa800"/><rect x="167.10" y="1140.53" width="41.80" height="23.07" fill="#ffa800"/><rect x="207.90" y="1140.53" width="42.00" height="23.07" fill="#ff0000"/><rect x="248.90" y="1140.53" width="41.40" height="23.07" fill="#ff0000"/><rect x="289.30" y="1140.53" width="41.70" height="23.07" fill="#ff8a00"/><rect x="330.00" y="1140.53" width="42.00" height="23.07" fill="#ff0f00"/><rect x="371.00" y="1140.53" width="41.10" height="23.07" fill="#ff3d00"/>
<rect x="3.30" y="1162.60" width="42.50" height="23.07" fill="#ffbd00"/><rect x="44.80" y="1162.60" width="41.70" height="23.07" fill="#fff500"/><rect x="85.50" y="1162.60" width="41.70" height="23.07" fill="#ffe500"/><rect x="126.20" y="1162.60" width="41.90" height="23.07" fill="#fffa00"/><rect x="167.10" y="1162.60" width="41.80" height="23.07" fill="#ffdb00"/><rect x="207.90" y="1162.60" width="42.00" height="23.07" fill="#ff0000"/><rect x="248.90" y="1162.60" width="41.40" height="23.07" fill="#ff0f00"/><rect x="289.30" y="1162.60" width="41.70" height="23.07" fill="#ffff00"/><rect x="330.00" y="1162.60" width="42.00" height="23.07" fill="#ffa800"/><rect x="371.00" y="1162.60" width="41.10" height="23.07" fill="#ff6100"/>
<rect x="3.30" y="1184.67" width="42.50" height="23.07" fill="#ffbd00"/><rect x="44.80" y="1184.67" width="41.70" height="23.07" fill="#ffa800"/><rect x="85.50" y="1184.67" width="41.70" height="23.07" fill="#ff9900"/><rect x="126.20" y="1184.67" width="41.90" height="23.07" fill="#ff8a00"/><rect x="167.10" y="1184.67" width="41.80" height="23.07" fill="#f0f02e"/><rect x="207.90" y="1184.67" width="42.00" height="23.07" fill="#ff3d00"/><rect x="248.90" y="1184.67" width="41.40" height="23.07" fill="#ff0000"/><rect x="289.30" y="1184.67" width="41.70" height="23.07" fill="#ff4d00"/><rect x="330.00" y="1184.67" width="42.00" height="23.07" fill="#ff0f00"/><rect x="371.00" y="1184.67" width="41.10" height="23.07" fill="#ff8500"/>
<rect x="3.30" y="1206.73" width="42.50" height="23.07" fill="#ff9900"/><rect x="44.80" y="1206.73" width="41.70" height="23.07" fill="#ffe500"/><rect x="85.50" y="1206.73" width="41.70" height="23.07" fill="#ffff00"/><rect x="126.20" y="1206.73" width="41.90" height="23.07" fill="#ffff00"/><rect x="167.10" y="1206.73" width="41.80" height="23.07" fill="#ffb200"/><rect x="207.90" y="1206.73" width="42.00" height="23.07" fill="#ff8000"/><rect x="248.90" y="1206.73" width="41.40" height="23.07" fill="#ff0000"/><rect x="289.30" y="1206.73" width="41.70" height="23.07" fill="#ffcc00"/><rect x="330.00" y="1206.73" width="42.00" height="23.07" fill="#ffa300"/><rect x="371.00" y="1206.73" width="41.10" height="23.07" fill="#ff2400"/>
<rect x="3.30" y="1228.80" width="42.50" height="23.07" fill="#ffd600"/><rect x="44.80" y="1228.80" width="41.70" height="23.07" fill="#ffdb00"/><rect x="85.50" y="1228.80" width="41.70" height="23.07" fill="#ffcc00"/><rect x="126.20" y="1228.80" width="41.90" height="23.07" fill="#ffcc00"/><rect x="167.10" y="1228.80" width="41.80" height="23.07" fill="#ffb200"/><rect x="207.90" y="1228.80" width="42.00" height="23.07" fill="#ff0000"/><rect x="248.90" y="1228.80" width="41.40" height="23.07" fill="#ff6600"/><rect x="289.30" y="1228.80" width="41.70" height="23.07" fill="#ffa800"/><rect x="330.00" y="1228.80" width="42.00" height="23.07" fill="#ff8000"/><rect x="371.00" y="1228.80" width="41.10" height="23.07" fill="#ff5700"/>
<rect x="3.30" y="1250.87" width="42.50" height="23.07" fill="#ffc700"/><rect x="44.80" y="1250.87" width="41.70" height="23.07" fill="#ffc700"/><rect x="85.50" y="1250.87" width="41.70" height="23.07" fill="#ffcc00"/><rect x="126.20" y="1250.87" width="41.90" height="23.07" fill="#ffe500"/><rect x="167.10" y="1250.87" width="41.80" height="23.07" fill="#ffcc00"/><rect x="207.90" y="1250.87" width="42.00" height="23.07" fill="#ff6600"/><rect x="248.90" y="1250.87" width="41.40" height="23.07" fill="#ff0000"/><rect x="289.30" y="1250.87" width="41.70" height="23.07" fill="#ffb200"/><rect x="330.00" y="1250.87" width="42.00" height="23.07" fill="#ffb200"/><rect x="371.00" y="1250.87" width="41.10" height="23.07" fill="#ff3d00"/>
<rect x="3.30" y="1272.93" width="42.50" height="23.07" fill="#ffd600"/><rect x="44.80" y="1272.93" width="41.70" height="23.07" fill="#ffb200"/><rect x="85.50" y="1272.93" width="41.70" height="23.07" fill="#fff000"/><rect x="126.20" y="1272.93" width="41.90" height="23.07" fill="#fefe04"/><rect x="167.10" y="1272.93" width="41.80" height="23.07" fill="#ffe000"/><rect x="207.90" y="1272.93" width="42.00" height="23.07" fill="#ff8000"/><rect x="248.90" y="1272.93" width="41.40" height="23.07" fill="#ff0000"/><rect x="289.30" y="1272.93" width="41.70" height="23.07" fill="#ffdb00"/><rect x="330.00" y="1272.93" width="42.00" height="23.07" fill="#ffb200"/><rect x="371.00" y="1272.93" width="41.10" height="23.07" fill="#ff7500"/>
<rect x="3.30" y="1295.00" width="42.50" height="23.07" fill="#ff6600"/><rect x="44.80" y="1295.00" width="41.70" height="23.07" fill="#f5f51f"/><rect x="85.50" y="1295.00" width="41.70" height="23.07" fill="#ffff00"/><rect x="126.20" y="1295.00" width="41.90" height="23.07" fill="#ffe800"/><rect x="167.10" y="1295.00" width="41.80" height="23.07" fill="#ffdb00"/><rect x="207.90" y="1295.00" width="42.00" height="23.07" fill="#ff0000"/><rect x="248.90" y="1295.00" width="41.40" height="23.07" fill="#ff9e00"/><rect x="289.30" y="1295.00" width="41.70" height="23.07" fill="#fefe04"/><rect x="330.00" y="1295.00" width="42.00" height="23.07" fill="#ff8f00"/><rect x="371.00" y="1295.00" width="41.10" height="23.07" fill="#ff4d00"/>
<rect x="3.30" y="1317.07" width="42.50" height="23.07" fill="#ff8c00"/><rect x="44.80" y="1317.07" width="41.70" height="23.07" fill="#fff500"/><rect x="85.50" y="1317.07" width="41.70" height="23.07" fill="#ff7000"/><rect x="126.20" y="1317.07" width="41.90" height="23.07" fill="#ff7500"/><rect x="167.10" y="1317.07" width="41.80" height="23.07" fill="#ffdb00"/><rect x="207.90" y="1317.07" width="42.00" height="23.07" fill="#ff3d00"/><rect x="248.90" y="1317.07" width="41.40" height="23.07" fill="#ff0500"/><rect x="289.30" y="1317.07" width="41.70" height="23.07" fill="#ff4200"/><rect x="330.00" y="1317.07" width="42.00" height="23.07" fill="#ff5700"/><rect x="371.00" y="1317.07" width="41.10" height="23.07" fill="#ff5200"/>
<rect x="3.30" y="1339.13" width="42.50" height="22.07" fill="#ffb200"/><rect x="44.80" y="1339.13" width="41.70" height="22.07" fill="#fff500"/><rect x="85.50" y="1339.13" width="41.70" height="22.07" fill="#fff500"/><rect x="126.20" y="1339.13" width="41.90" height="22.07" fill="#fefe04"/><rect x="167.10" y="1339.13" width="41.80" height="22.07" fill="#ffa800"/><rect x="207.90" y="1339.13" width="42.00" height="22.07" fill="#ff0000"/><rect x="248.90" y="1339.13" width="41.40" height="22.07" fill="#ff7c00"/><rect x="289.30" y="1339.13" width="41.70" height="22.07" fill="#ff7c00"/><rect x="330.00" y="1339.13" width="42.00" height="22.07" fill="#ffe000"/><rect x="371.00" y="1339.13" width="41.10" height="22.07" fill="#ffa800"/>
</g>
<text class="b" x="427.6" y="229.6" font-size="20" stroke="#000" stroke-width="0.4" textLength="50.2" lengthAdjust="spacingAndGlyphs">Gene</text>
<g id="genes" font-size="15.8" fill="#000">
<text x="429.6" y="253.60">LV539</text>
<text x="429.6" y="275.67">KV116</text>
<text x="429.6" y="297.73">KVD11</text>
<text x="429.6" y="319.80">KV112</text>
<text x="429.6" y="341.87">S100B</text>
<text x="429.6" y="363.93">LV310</text>
<text x="429.6" y="386.00">IGKC</text>
<text x="429.6" y="408.07">IGHG3</text>
<text x="429.6" y="430.13">IGJ</text>
<text x="429.6" y="452.20">KV320</text>
<text x="429.6" y="474.27">KVD20</text>
<text x="429.6" y="496.33">HV374</text>
<text x="429.6" y="518.40">HV5X1</text>
<text x="429.6" y="540.47">KVD13</text>
<text x="429.6" y="562.53">HV601</text>
<text x="429.6" y="584.60">IGLC3</text>
<text x="429.6" y="606.67">IGLL5</text>
<text x="429.6" y="628.73">KVD29</text>
<text x="429.6" y="650.80">IGHG4</text>
<text x="429.6" y="672.87">IGG1</text>
<text x="429.6" y="694.93">KVD15</text>
<text x="429.6" y="717.00">IGHA1</text>
<text x="429.6" y="739.07">KV401</text>
<text x="429.6" y="761.13">Q5NV69</text>
<text x="429.6" y="783.20">SFRP2</text>
<text x="429.6" y="805.27">ITA1</text>
<text x="429.6" y="827.33">KAP3</text>
<text x="429.6" y="849.40">SRS10</text>
<text x="429.6" y="871.47">MZB1</text>
<text x="429.6" y="893.53">GSTM5</text>
<text x="429.6" y="915.60">TPM2</text>
<text x="429.6" y="937.67">SLMAP</text>
<text x="429.6" y="959.73">PGM5</text>
<text x="429.6" y="981.80">NCALD</text>
<text x="429.6" y="1003.87">LDB3</text>
<text x="429.6" y="1025.93">CNN1</text>
<text x="429.6" y="1048.00">MUC18</text>
<text x="429.6" y="1070.07">TAGL</text>
<text x="429.6" y="1092.13">ADH1B</text>
<text x="429.6" y="1114.20">PTGDS</text>
<text x="429.6" y="1136.27">PLIN1</text>
<text x="429.6" y="1158.33">AL1A1</text>
<text x="429.6" y="1180.40">CHDH</text>
<text x="429.6" y="1202.47">AL1B1</text>
<text x="429.6" y="1224.53">MRP1</text>
<text x="429.6" y="1246.60">COQ3</text>
<text x="429.6" y="1268.67">XYLK</text>
<text x="429.6" y="1290.73">NDC1</text>
<text x="429.6" y="1312.80">CGT</text>
<text x="429.6" y="1334.87">PRAF2</text>
<text x="429.6" y="1356.93">ZBED1</text>
</g>
<g id="panel">
<rect x="514.5" y="200.9" width="245.4" height="35.6" fill="#bdd7ee" stroke="#222" stroke-width="1"/>
<rect x="514.5" y="236.5" width="245.4" height="526.6" fill="#f8cbad" stroke="#222" stroke-width="1"/>
<rect x="514.5" y="763.1" width="245.4" height="307.4" fill="#e7e6e6" stroke="#222" stroke-width="1"/>
<rect x="514.5" y="1070.5" width="245.4" height="285.5" fill="#e2efda" stroke="#222" stroke-width="1"/>
<text class="b" x="517.6" y="224.9" font-size="15.5" stroke="#000" stroke-width="0.3" textLength="194.4" lengthAdjust="spacingAndGlyphs">Pathway/biological function</text>
<text class="b" x="544.9" y="508.7" font-size="23" fill="#c00000" stroke="#c00000" stroke-width="0.4" textLength="184" lengthAdjust="spacingAndGlyphs">immune response</text>
<text class="b" x="574.1" y="1221.5" font-size="22.4" fill="#000" stroke="#000" stroke-width="0.4" textLength="125.3" lengthAdjust="spacingAndGlyphs">Metabolism</text>
<g id="funcs" font-size="14.8" fill="#000" stroke="#000" stroke-width="0.15">
<text x="517.6" y="779.80" textLength="156.8" lengthAdjust="spacingAndGlyphs">Basic Signaling pathway</text>
<text x="517.6" y="801.87" textLength="156.8" lengthAdjust="spacingAndGlyphs">Basic Signaling pathway</text>
<text x="517.6" y="823.93" textLength="110.0" lengthAdjust="spacingAndGlyphs">Gene Expression</text>
<text x="517.6" y="846.00" textLength="110.0" lengthAdjust="spacingAndGlyphs">Gene Expression</text>
<text x="517.6" y="868.07" textLength="119.4" lengthAdjust="spacingAndGlyphs">Apoptotic process</text>
<text x="517.6" y="890.13" textLength="131.5" lengthAdjust="spacingAndGlyphs">Cell Stress response</text>
<text x="517.6" y="912.20" textLength="126.3" lengthAdjust="spacingAndGlyphs">muscle contraction</text>
<text x="517.6" y="934.27" textLength="126.3" lengthAdjust="spacingAndGlyphs">muscle contraction</text>
<text x="517.6" y="956.33" textLength="124.3" lengthAdjust="spacingAndGlyphs">myofibril assembly</text>
<text x="517.6" y="978.40" textLength="112.5" lengthAdjust="spacingAndGlyphs">Neuronal System</text>
<text x="517.6" y="1000.47" textLength="207.0" lengthAdjust="spacingAndGlyphs">Actin cytoskeleton organization</text>
<text x="517.6" y="1022.53" textLength="225.3" lengthAdjust="spacingAndGlyphs">actomyosin structure organization</text>
<text x="517.6" y="1044.60" textLength="225.3" lengthAdjust="spacingAndGlyphs">actomyosin structure organization</text>
<text x="517.6" y="1066.67" textLength="78.6" lengthAdjust="spacingAndGlyphs">Cell Process</text>
</g>
</g>
<defs><linearGradient id="lg" x1="0" x2="1" y1="0" y2="0"><stop offset="0" stop-color="#c0c0c0"/><stop offset="0.5" stop-color="#ffff00"/><stop offset="1" stop-color="#ff0000"/></linearGradient></defs>
<rect x="267.5" y="1403" width="160.5" height="14.8" fill="url(#lg)"/>
<g font-size="15.6" fill="#000"><text x="268.1" y="1398.4" textLength="8.7" lengthAdjust="spacingAndGlyphs">0</text><text x="330.3" y="1398.4" textLength="21.1" lengthAdjust="spacingAndGlyphs">0.5</text><text x="404.6" y="1398.4" textLength="22.8" lengthAdjust="spacingAndGlyphs">1.0</text></g>
<text x="266.0" y="1434.4" font-size="17.6" textLength="163" lengthAdjust="spacingAndGlyphs">Relative abundance</text>
</svg>
</body>
</html>
